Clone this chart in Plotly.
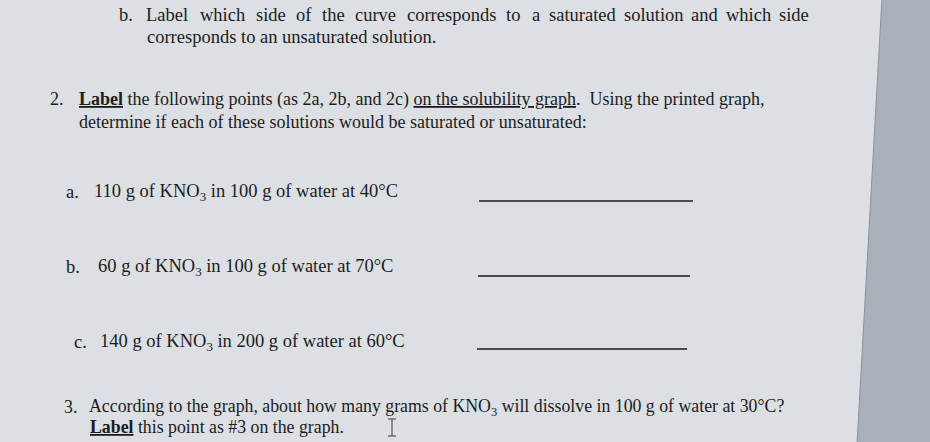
import plotly.graph_objects as go

W, H = 930, 442
SERIF = "Liberation Serif, Times New Roman, serif"
INK = "#1c1c1c"
UL = '<span style="text-decoration:underline">{}</span>'

# question 1b, first line is justified so it is laid out word by word
q1b_words = ["Label", "which", "side", "of", "the", "curve", "corresponds",
             "to", "a", "saturated", "solution", "and", "which", "side"]
q1b_word_x = [144, 198, 254, 294, 320, 353, 405, 504, 530, 547, 622, 689, 724, 777]

# remaining text lines: (label, label x, text, text x, y, size)
text_lines = [
    ("b.", 117, "", 0, 15, 18.5),
    ("", 0, "corresponds to an unsaturated solution.", 145, 37, 18.5),
    ("2.", 48, "<b>" + UL.format("Label") + "</b> the following points (as 2a, 2b, and 2c) "
     + UL.format("on the solubility graph") + ".  Using the printed graph,", 77, 99, 18),
    ("", 0, "determine if each of these solutions would be saturated or unsaturated:", 77, 122, 18),
    ("a.", 64, "110 g of KNO<sub>3</sub> in 100 g of water at 40°C", 92, 192, 18.5),
    ("b.", 64, "60 g of KNO<sub>3</sub> in 100 g of water at 70°C", 96, 267, 18.5),
    ("c.", 72, "140 g of KNO<sub>3</sub> in 200 g of water at 60°C", 98, 342, 18.5),
    ("3.", 62, "According to the graph, about how many grams of KNO<sub>3</sub> will dissolve "
     "in 100 g of water at 30°C?", 87, 407, 17.8),
    ("", 0, "<b>" + UL.format("Label") + "</b> this point as #3 on the graph.", 88, 427, 17.8),
]

# answer blanks for 2a-2c: (x start, x end, y)
blank_x0 = [479, 478, 477]
blank_x1 = [693, 690, 687]
blank_y = [201, 276, 349]

fig = go.Figure()

# answer blanks
for x0, x1, y in zip(blank_x0, blank_x1, blank_y):
    fig.add_trace(go.Scatter(x=[x0, x1], y=[y, y], mode="lines",
                             line=dict(color="#1a1a1a", width=1.3),
                             hoverinfo="skip", showlegend=False))


def note(x, y, text, size):
    return dict(x=x, y=y, text=text, xanchor="left", yanchor="middle", showarrow=False,
                font=dict(family=SERIF, size=size, color=INK))


annotations = [note(x, 15, w, 18.5) for w, x in zip(q1b_words, q1b_word_x)]
for label, lx, txt, tx, y, size in text_lines:
    if label:
        annotations.append(note(lx, y, label, size))
    if txt:
        annotations.append(note(tx, y, txt, size))

shapes = [
    # grey desk beyond the sheet
    dict(type="rect", x0=0, x1=W, y0=0, y1=H, fillcolor="#a9b0b8",
         line=dict(width=0), layer="below"),
    # the sheet, its right edge slightly slanted
    dict(type="path", path=f"M -2 -2 L 882 -2 L 857 {H + 2} L -2 {H + 2} Z",
         fillcolor="#dcdfe3", line=dict(color="#8a929c", width=1), layer="below"),
    # text cursor
    dict(type="line", x0=392, x1=392, y0=419, y1=436, line=dict(color="#555", width=1.2)),
    dict(type="line", x0=388, x1=396, y0=419, y1=419, line=dict(color="#555", width=1.2)),
    dict(type="line", x0=388, x1=396, y0=436, y1=436, line=dict(color="#555", width=1.2)),
]

fig.update_layout(
    width=W, height=H,
    margin=dict(l=0, r=0, t=0, b=0),
    paper_bgcolor="#a9b0b8", plot_bgcolor="#a9b0b8",
    xaxis=dict(range=[0, W], visible=False, fixedrange=True),
    yaxis=dict(range=[H, 0], visible=False, fixedrange=True),
    annotations=annotations,
    shapes=shapes,
)

fig.write_html("out.html", config={"displayModeBar": False},
               post_script="document.body.style.margin='0';document.body.style.overflow='hidden';")
